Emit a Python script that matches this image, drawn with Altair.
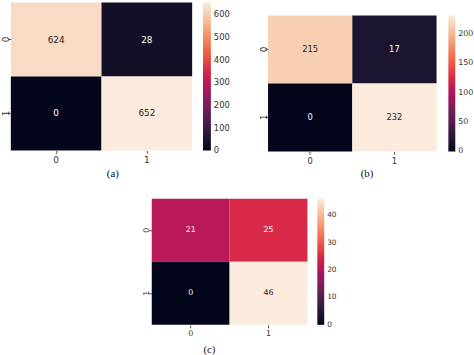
import altair as alt
import pandas as pd

# ---- data ----
true_labels = ["0", "0", "1", "1"]
pred_labels = ["0", "1", "0", "1"]
vals_a = [624, 28, 0, 652]
vals_b = [215, 17, 0, 232]
vals_c = [21, 25, 0, 46]
ticks_a = [0, 100, 200, 300, 400, 500, 600]
ticks_b = [0, 50, 100, 150, 200]
ticks_c = [0, 10, 20, 30, 40]
panel_titles = ["(a)", "(b)", "(c)"]

# seaborn "rocket" colormap stops
rocket_stops = [0, 1 / 7, 2 / 7, 3 / 7, 4 / 7, 5 / 7, 6 / 7, 1.0]
rocket_colors = ["#03051a", "#35193e", "#701f57", "#ad1759",
                 "#e13342", "#f37651", "#f6b48f", "#faebdd"]


def panel(vals, ticks, title, w, h, fs, leg_offset, thick, title_x, title_y):
    df = pd.DataFrame({"true": true_labels, "pred": pred_labels, "v": vals})
    m = max(vals)
    dom = [s * m for s in rocket_stops]
    dom[0] = -m * 0.001
    base = alt.Chart(df).encode(
        x=alt.X("pred:O", sort=["0", "1"],
                axis=alt.Axis(title=title, labelAngle=0, domain=False, ticks=True,
                              tickSize=3, tickColor="#555", labelFontSize=fs,
                              labelColor="#333", labelFont="DejaVu Sans",
                              titleFont="Liberation Serif", titleFontSize=11,
                              titleFontWeight="normal", titleColor="#111",
                              titleX=title_x, titleY=title_y, titleBaseline="middle",
                              labelPadding=2)),
        y=alt.Y("true:O", sort=["0", "1"],
                axis=alt.Axis(title=None, labelAngle=270, domain=False, ticks=True,
                              tickSize=3, tickColor="#555", labelFontSize=fs,
                              labelColor="#333", labelFont="DejaVu Sans",
                              labelPadding=2, labelBaseline="middle", labelAlign="center")),
    )
    rect = base.mark_rect().encode(
        color=alt.Color("v:Q",
                        scale=alt.Scale(domain=dom, range=rocket_colors),
                        legend=alt.Legend(title=None, gradientLength=h,
                                          gradientThickness=thick, offset=leg_offset,
                                          values=ticks, labelFontSize=fs - 0.5,
                                          labelColor="#333", labelFont="DejaVu Sans",
                                          gradientStrokeWidth=0, padding=0,
                                          labelOffset=3, labelBaseline="middle",
                                          direction="vertical"))
    )
    text = base.mark_text(font="DejaVu Sans", fontSize=fs).encode(
        text=alt.Text("v:Q"),
        color=alt.condition(f"datum.v > {m * 0.6}", alt.value("#262626"), alt.value("#ffffff")),
    )
    return alt.layer(rect, text).properties(width=w, height=h).resolve_scale(color="independent")


def spacer(w, h):
    return alt.Chart(pd.DataFrame({"s": [0]})).mark_point(opacity=0).properties(width=w, height=h)


pa = panel(vals_a, ticks_a, panel_titles[0], 184, 150, 9, 11, 8, 103, 23)
pb = panel(vals_b, ticks_b, panel_titles[1], 171, 138, 8.5, 12, 7, 100, 22)
pc = panel(vals_c, ticks_c, panel_titles[2], 158, 128, 8, 10, 7, 58, 25)

top = alt.hconcat(pa, alt.vconcat(spacer(1, 13), pb, spacing=0), spacing=29)
bottom = alt.hconcat(spacer(134, 1), pc, spacing=0)
chart = alt.vconcat(top, bottom, spacing=18).properties(
    padding={"left": 2, "top": 0, "right": 0, "bottom": 0},
    background="white",
).configure_view(stroke=None)

chart.save("out.html", embed_options={"renderer": "svg", "actions": False})
